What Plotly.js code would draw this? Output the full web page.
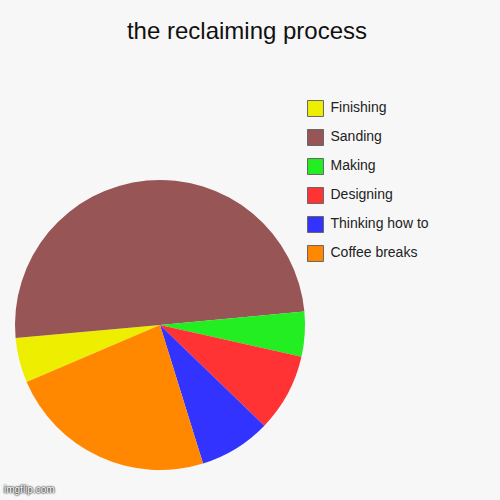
<!DOCTYPE html>
<html>
<head>
<meta charset="utf-8">
<script src="https://cdn.plot.ly/plotly-3.0.1.min.js"></script>
<style>
  body { margin: 0; background: #f7f7f7; }
  /* legend squares: a bit bigger, grey edge like the original */
  .legendpie { transform: translate(20px, 0) scale(1.33); stroke: #666 !important; stroke-width: 0.75px !important; }
  .legendtext { transform: translate(-5px, -4px); }
</style>
</head>
<body>
<div id="plot" style="width:500px;height:500px;"></div>
<script>
// slices, in the order they run clockwise (and in the legend)
var labels = ['Finishing', 'Sanding', 'Making', 'Designing', 'Thinking how to', 'Coffee breaks'];
var values = [5, 50, 5, 8.7, 8, 23.4];
var colors = ['#eeee00', '#985555', '#22ee22', '#ff3333', '#3333ff', '#ff8800'];

var trace = {
    type: 'pie',
    labels: labels.map(function(l) { return '<span style="font-size:14px">' + l + '</span>'; }),
    values: values,
    sort: false,
    direction: 'clockwise',
    rotation: -113.1,
    textinfo: 'none',
    marker: {colors: colors, line: {width: 0}},
    domain: {x: [0.03, 0.61], y: [0.06, 0.64]}
};

var layout = {
    width: 500,
    height: 500,
    margin: {l: 0, r: 0, t: 0, b: 0},
    paper_bgcolor: '#f7f7f7',
    font: {family: 'Arial, "Liberation Sans", sans-serif', color: '#222'},
    title: {
        text: 'the reclaiming process',
        font: {size: 24, color: '#111'},
        x: 0.494, xanchor: 'center',
        y: 0.938, yanchor: 'middle'
    },
    showlegend: true,
    legend: {
        x: 0.591, xanchor: 'left',
        y: 0.822, yanchor: 'top',
        font: {size: 20, color: '#222'},
        bgcolor: 'rgba(0,0,0,0)'
    },
    annotations: [{
        text: 'imgflip.com',
        xref: 'paper', yref: 'paper',
        x: 0.004, y: 0.006, xanchor: 'left', yanchor: 'bottom',
        showarrow: false,
        font: {size: 10, color: '#fff', shadow: '0 0 2px #000, 0 0 2px #000'}
    }]
};

Plotly.newPlot('plot', [trace], layout, {displayModeBar: false, staticPlot: true});
</script>
</body>
</html>
